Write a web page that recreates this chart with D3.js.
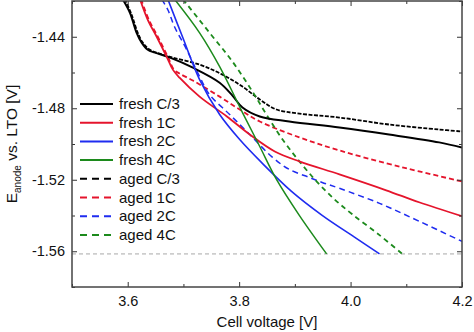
<!DOCTYPE html>
<html>
<head>
<meta charset="utf-8">
<script src="https://cdn.jsdelivr.net/npm/d3@7"></script>
<style>
  html, body { margin: 0; padding: 0; background: #fff; }
  svg { display: block; font-family: "Liberation Sans", Arial, sans-serif; }
</style>
</head>
<body>
<svg id="chart" width="474" height="332"></svg>
<script>
// values: [cell voltage V, E_anode vs LTO V]
const freshC3 = [[3.591,-1.4190],[3.604,-1.4266],[3.616,-1.4378],[3.625,-1.4433],[3.636,-1.4473],[3.649,-1.4489],[3.676,-1.4517],[3.717,-1.4573],[3.765,-1.4657],[3.788,-1.4729],[3.806,-1.4796],[3.837,-1.4846],[3.890,-1.4874],[3.980,-1.4908],[4.069,-1.4947],[4.159,-1.4991],[4.200,-1.5020]];
const fresh1C = [[3.622,-1.4190],[3.636,-1.4305],[3.652,-1.4400],[3.670,-1.4512],[3.681,-1.4584],[3.693,-1.4629],[3.729,-1.4735],[3.778,-1.4846],[3.819,-1.4947],[3.864,-1.5042],[3.908,-1.5097],[3.980,-1.5170],[4.064,-1.5259],[4.123,-1.5326],[4.200,-1.5404]];
const fresh2C = [[3.672,-1.4190],[3.699,-1.4406],[3.729,-1.4640],[3.765,-1.4835],[3.801,-1.4975],[3.840,-1.5103],[3.894,-1.5265],[3.949,-1.5399],[4.007,-1.5521],[4.052,-1.5615]];
const fresh4C = [[3.684,-1.4190],[3.729,-1.4378],[3.765,-1.4567],[3.806,-1.4824],[3.837,-1.5014],[3.867,-1.5198],[3.908,-1.5399],[3.957,-1.5615]];
const agedC3  = [[3.595,-1.4190],[3.607,-1.4277],[3.618,-1.4378],[3.627,-1.4433],[3.640,-1.4473],[3.676,-1.4512],[3.729,-1.4556],[3.770,-1.4612],[3.806,-1.4679],[3.837,-1.4751],[3.867,-1.4807],[3.908,-1.4830],[3.980,-1.4852],[4.069,-1.4891],[4.159,-1.4919],[4.200,-1.4930]];
const aged1C  = [[3.624,-1.4190],[3.638,-1.4305],[3.654,-1.4400],[3.672,-1.4512],[3.683,-1.4584],[3.693,-1.4606],[3.717,-1.4645],[3.765,-1.4735],[3.801,-1.4807],[3.837,-1.4874],[3.908,-1.4963],[3.980,-1.5036],[4.064,-1.5108],[4.123,-1.5153],[4.200,-1.5210]];
const aged2C  = [[3.661,-1.4190],[3.672,-1.4249],[3.684,-1.4344],[3.706,-1.4473],[3.729,-1.4623],[3.747,-1.4724],[3.783,-1.4835],[3.819,-1.4947],[3.860,-1.5075],[3.890,-1.5142],[3.926,-1.5187],[3.949,-1.5215],[3.980,-1.5248],[4.052,-1.5332],[4.123,-1.5432],[4.200,-1.5545]];
const aged4C  = [[3.699,-1.4190],[3.747,-1.4378],[3.788,-1.4539],[3.824,-1.4707],[3.849,-1.4835],[3.878,-1.4975],[3.908,-1.5097],[3.939,-1.5209],[3.971,-1.5309],[4.003,-1.5393],[4.052,-1.5510],[4.093,-1.5615]];

const seriesNames  = ['fresh C/3','fresh 1C','fresh 2C','fresh 4C','aged C/3','aged 1C','aged 2C','aged 4C'];
const seriesData   = [freshC3, fresh1C, fresh2C, fresh4C, agedC3, aged1C, aged2C, aged4C];
const xTicks = [3.6, 3.8, 4.0, 4.2];
const xMinor = [3.5, 3.7, 3.9, 4.1];
const yTicks = [-1.44, -1.48, -1.52, -1.56];
const yMinor = [-1.42, -1.46, -1.50, -1.54, -1.58];
const cutoff = -1.5615;

// styles per series
const colors = ['#000000','#e5142c','#1f2cf0','#1c8a1c','#000000','#e5142c','#1f2cf0','#1c8a1c'];
const dashes = [null, null, null, null, '4,1.5', '5,3', '6,4', '5,4'];
const widths = [2, 1.8, 1.6, 1.5, 1.8, 1.8, 1.5, 1.8];

const svg = d3.select('#chart');
const m = { left: 72, right: 12, top: 1, bottom: 45 };
const W = 474, H = 332;

const x = d3.scaleLinear().domain([3.5, 4.2]).range([m.left, W - m.right]);
const y = d3.scaleLinear().domain([-1.58, -1.42]).range([H - m.bottom, m.top]);

svg.append('defs').append('clipPath').attr('id', 'clip')
  .append('rect')
  .attr('x', m.left).attr('y', m.top)
  .attr('width', x.range()[1] - m.left)
  .attr('height', y.range()[0] - m.top);

// gray dashed reference line
svg.append('line')
  .attr('x1', x(3.5)).attr('x2', x(4.2))
  .attr('y1', y(cutoff)).attr('y2', y(cutoff))
  .attr('stroke', '#a8a8a8').attr('stroke-width', 1)
  .attr('stroke-dasharray', '4,3');

const line = d3.line()
  .x(d => x(d[0]))
  .y(d => y(d[1]))
  .curve(d3.curveCatmullRom.alpha(0.5));

const plot = svg.append('g').attr('clip-path', 'url(#clip)');
// draw aged first, fresh on top
[4,5,6,7,0,1,2,3].forEach(i => {
  plot.append('path')
    .datum(seriesData[i])
    .attr('d', line)
    .attr('fill', 'none')
    .attr('stroke', colors[i])
    .attr('stroke-width', widths[i])
    .attr('stroke-dasharray', dashes[i]);
});

// axes, ticks inward on all four sides
const tickColor = '#333';
const xb = y.range()[0], xt = y.range()[1];
const yl = x.range()[0], yr = x.range()[1];

svg.append('g').attr('transform', `translate(0,${xb})`)
  .call(d3.axisBottom(x).tickValues(xTicks).tickSize(-5).tickPadding(9).tickFormat(d3.format('.1f')));
svg.append('g').attr('transform', `translate(0,${xt})`)
  .call(d3.axisTop(x).tickValues(xTicks).tickSize(-5).tickFormat(''));
const axLeft = svg.append('g').attr('transform', `translate(${yl},0)`)
  .call(d3.axisLeft(y).tickValues(yTicks).tickSize(-5).tickPadding(7).tickFormat(d3.format('.2f')));
svg.append('g').attr('transform', `translate(${yr},0)`)
  .call(d3.axisRight(y).tickValues(yTicks).tickSize(-5).tickFormat(''));

svg.append('g').attr('transform', `translate(0,${xb})`)
  .call(d3.axisBottom(x).tickValues(xMinor).tickSize(-3).tickFormat(''));
svg.append('g').attr('transform', `translate(0,${xt})`)
  .call(d3.axisTop(x).tickValues(xMinor).tickSize(-3).tickFormat(''));
svg.append('g').attr('transform', `translate(${yl},0)`)
  .call(d3.axisLeft(y).tickValues(yMinor).tickSize(-3).tickFormat(''));
svg.append('g').attr('transform', `translate(${yr},0)`)
  .call(d3.axisRight(y).tickValues(yMinor).tickSize(-3).tickFormat(''));

svg.selectAll('.domain').remove();
svg.selectAll('.tick line').attr('stroke', tickColor).attr('stroke-width', 1);
svg.selectAll('.tick text')
  .attr('fill', '#111')
  .style('font-size', '14.5px')
  .style('font-family', '"Liberation Sans", Arial, sans-serif');
axLeft.selectAll('.tick text').text(d => d3.format('.2f')(d).replace('−', '-'));

// frame
svg.append('rect')
  .attr('x', yl).attr('y', xt)
  .attr('width', yr - yl).attr('height', xb - xt)
  .attr('fill', 'none').attr('stroke', '#444').attr('stroke-width', 1.5);

// axis titles
svg.append('text')
  .attr('x', (yl + yr) / 2).attr('y', 327)
  .attr('text-anchor', 'middle')
  .style('font-size', '15px').attr('fill', '#111')
  .text('Cell voltage [V]');

const yt = svg.append('text')
  .attr('transform', `translate(17,${(xb + xt) / 2}) rotate(-90)`)
  .attr('text-anchor', 'middle')
  .style('font-size', '15.5px').attr('fill', '#111');
yt.append('tspan').text('E');
yt.append('tspan').attr('dy', 4).style('font-size', '10px').text('anode');
yt.append('tspan').attr('dy', -4).text(' vs. LTO [V]');

// legend
const lg = svg.append('g');
seriesNames.forEach((name, i) => {
  const ly = 104 + i * 18.7;
  lg.append('line')
    .attr('x1', 80).attr('x2', 113)
    .attr('y1', ly).attr('y2', ly)
    .attr('stroke', colors[i])
    .attr('stroke-width', 2)
    .attr('stroke-dasharray', dashes[i] ? '7,5' : null);
  lg.append('text')
    .attr('x', 119).attr('y', ly + 5)
    .style('font-size', '15px').attr('fill', '#111')
    .text(name);
});
</script>
</body>
</html>
